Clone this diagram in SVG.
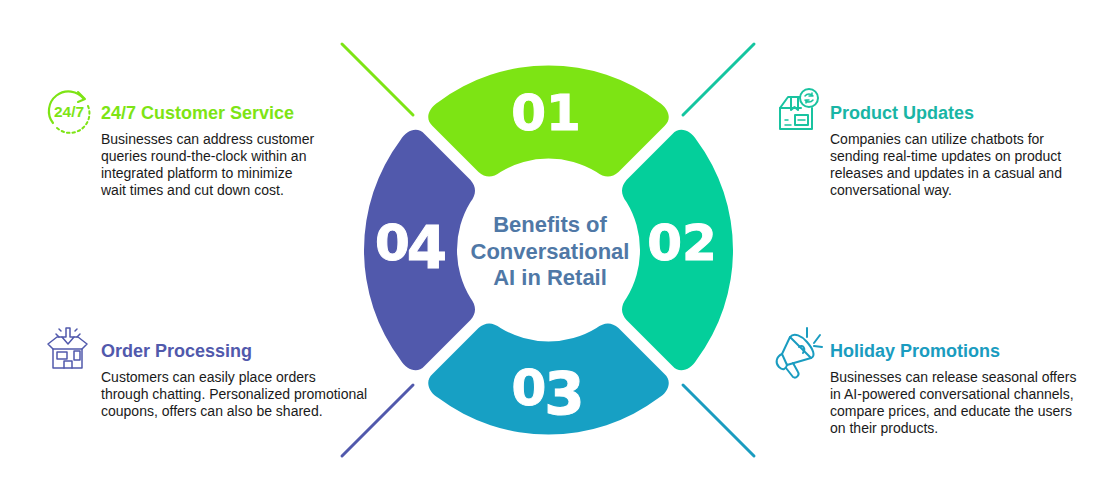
<svg xmlns="http://www.w3.org/2000/svg" width="1100" height="500" viewBox="0 0 1100 500">
<style>
.t{font-family:"Liberation Sans",Arial,sans-serif;font-weight:700;font-size:18px}
.b{font-family:"Liberation Sans",Arial,sans-serif;font-size:14px;fill:#1a1a1a}
.n{font-family:"DejaVu Sans",sans-serif;font-weight:700;font-size:50px;fill:#fff;stroke:#fff;stroke-width:1;text-anchor:middle}
.d{font-size:58px}
.c{font-family:"Liberation Sans",Arial,sans-serif;font-weight:700;font-size:22px;fill:#4f78a6;text-anchor:middle}
.l{stroke-width:3;stroke-linecap:round;fill:none}
.i{fill:none;stroke-width:2;stroke-linecap:round;stroke-linejoin:round}
</style>
<defs>
<path id="seg" d="M-110,-148A184,184 0 0 1 110,-148C120,-142 124,-131 116,-124L70,-78C63,-72 56,-72 48,-78A92,92 0 0 0 -48,-78C-56,-72 -63,-72 -70,-78L-116,-124C-124,-131 -120,-142 -110,-148Z"/>
</defs>
<rect width="1100" height="500" fill="#fff"/>
<g id="connectors">
<line class="l" x1="342" y1="44" x2="413" y2="115" stroke="#7de414"/>
<line class="l" x1="754" y1="44" x2="683" y2="115" stroke="#14c5a0"/>
<line class="l" x1="683" y1="385" x2="754" y2="456" stroke="#1a9cc0"/>
<line class="l" x1="413" y1="385" x2="342" y2="456" stroke="#5159ac"/>
</g>
<g id="node-01">
<use href="#seg" transform="translate(548.5,250)" fill="#7de414"/>
<text class="n" x="546" y="130">01</text>
</g>
<g id="node-02">
<use href="#seg" transform="translate(548.5,250) rotate(90)" fill="#04cf9b"/>
<text class="n" x="682" y="260">02</text>
</g>
<g id="node-03">
<use href="#seg" transform="translate(548.5,250) rotate(180)" fill="#17a0c4"/>
<text class="n" x="548" y="405">0<tspan class="d" dy="9" dx="-2">3</tspan></text>
</g>
<g id="node-04">
<use href="#seg" transform="translate(548.5,250) rotate(270)" fill="#5159ac"/>
<text class="n" x="411" y="260">0<tspan class="d" dy="8" dx="-3">4</tspan></text>
</g>
<g id="center">
<text class="c" x="550" y="232">Benefits of</text>
<text class="c" x="550" y="259">Conversational</text>
<text class="c" x="550" y="285">AI in Retail</text>
</g>
<g id="service">
<g class="i" stroke="#7de414">
<path d="M84,99A19.500,19.500 0 1 0 53,123" stroke-width="2.200"/>
<path d="M78,92L85,99L78,102"/>
<path d="M88,106A19.500,19.500 0 0 1 56,127" stroke-dasharray="2.500 3"/>
</g>
<text x="69" y="117" text-anchor="middle" style="font-family:'Liberation Sans',sans-serif;font-weight:700;font-size:15.500px" fill="#7de414">24/7</text>
<text class="t" x="101" y="119" fill="#7de414">24/7 Customer Service</text>
<text class="b" x="101" y="144">Businesses can address customer</text>
<text class="b" x="101" y="161">queries round-the-clock within an</text>
<text class="b" x="101" y="178">integrated platform to minimize</text>
<text class="b" x="101" y="195">wait times and cut down cost.</text>
</g>
<g id="updates">
<g class="i" stroke="#19c3a0">
<path d="M801,97H788L780,108V129H812V108"/>
<path d="M780,108H801"/>
<path d="M791,97V110L794.500,107L798,110V97"/>
<circle cx="809" cy="98" r="9" fill="#fff"/>
<path d="M805,96A5,5 0 0 1 813,96M813,100A5,5 0 0 1 805,100M812,93V96H809M806,103V100H809" stroke-width="1.500"/>
<rect x="795" y="115" width="13" height="10"/>
<path d="M798,120H805M785,125H791M785,120H788" stroke-width="1.500"/>
</g>
<text class="t" x="830" y="119" fill="#19b5a5">Product Updates</text>
<text class="b" x="830" y="144">Companies can utilize chatbots for</text>
<text class="b" x="830" y="161">sending real-time updates on product</text>
<text class="b" x="830" y="178">releases and updates in a casual and</text>
<text class="b" x="830" y="195">conversational way.</text>
</g>
<g id="promotions">
<g class="i" stroke="#1a9cc0">
<path d="M790,337L811,358L787,365L782,354Z"/>
<path d="M790,337C794,332 802,336 807,342C813,349 816,356 811,358"/>
<path d="M799,347C803,344 806,349 803,353"/>
<path d="M782,354C776,357 775,363 779,367C783,371 786,369 787,365"/>
<path d="M786,368L793,377C796,379 800,375 798,372L793,363"/>
<path d="M807,337V328M814,343L820,335M814,346L822,347"/>
</g>
<text class="t" x="830" y="357" fill="#1a9cc0">Holiday Promotions</text>
<text class="b" x="830" y="382">Businesses can release seasonal offers</text>
<text class="b" x="830" y="399">in AI-powered conversational channels,</text>
<text class="b" x="830" y="416">compare prices, and educate the users</text>
<text class="b" x="830" y="433">on their products.</text>
</g>
<g id="processing">
<g class="i" stroke="#5159ac" style="stroke-width:1.500">
<path d="M53,349V368H82V349"/>
<path d="M48,344L57,337H62M87,344L78,337H74M48,344L53,349H82L87,344"/>
<rect x="57" y="352" width="10" height="7"/>
<rect x="74" y="351" width="6" height="9"/>
<path d="M64,368V361H72V368"/>
<path d="M66,328H70V337H74L68,344L62,337H66Z"/>
<path d="M56,334L59,337M80,334L77,337M59,329L61,331M77,329L75,331"/>
</g>
<text class="t" x="101" y="357" fill="#5159ac">Order Processing</text>
<text class="b" x="101" y="382">Customers can easily place orders</text>
<text class="b" x="101" y="399">through chatting. Personalized promotional</text>
<text class="b" x="101" y="416">coupons, offers can also be shared.</text>
</g>
</svg>
